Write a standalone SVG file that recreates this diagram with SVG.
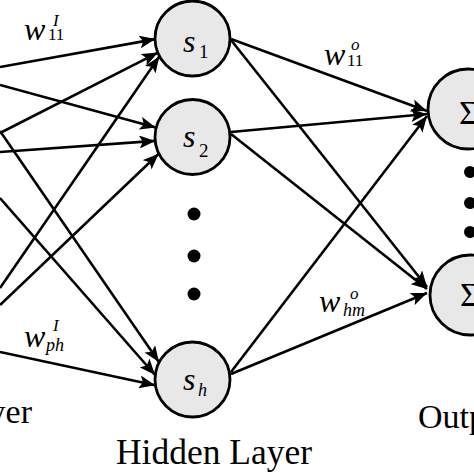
<svg xmlns="http://www.w3.org/2000/svg" width="474" height="474" viewBox="0 0 474 474">
<style>
.edge{stroke:#000;stroke-width:2.6;fill:none;marker-end:url(#arr)}
.node{fill:#e8e8e8;stroke:#000;stroke-width:2.8}
.dot{fill:#000}
.it{font-family:"Liberation Serif",serif;font-style:italic}
.rm{font-family:"Liberation Serif",serif}
.up{font-style:normal}
</style>
<defs>
<marker id="arr" markerWidth="17" markerHeight="13" refX="16" refY="6.5" orient="auto" markerUnits="userSpaceOnUse">
<path d="M0,0 L16,6.5 L0,13 L3.5,6.5 z" fill="#000"/>
</marker>
</defs>
<rect width="474" height="474" fill="#fff"/>
<g id="connectors">
<path class="edge" d="M0,67 L155.4,39.1"/>
<path class="edge" d="M0,133 L157.9,52.6"/>
<path class="edge" d="M0,288 L159.3,56.5"/>
<path class="edge" d="M0,85 L155.8,127.5"/>
<path class="edge" d="M0,152 L155.3,140.9"/>
<path class="edge" d="M0,305 L158.7,153.7"/>
<path class="edge" d="M0,131 L158.9,362"/>
<path class="edge" d="M0,198 L155.1,375"/>
<path class="edge" d="M0,352 L155.2,385.2"/>
<path class="edge" d="M231,39 L427,111"/>
<path class="edge" d="M231,40 L427,287"/>
<path class="edge" d="M231,132 L427,114"/>
<path class="edge" d="M231,134 L427,289"/>
<path class="edge" d="M231,372 L427,116"/>
<path class="edge" d="M231,374 L427,293"/>
</g>
<g id="weight-labels">
<text class="it" x="24" y="40" font-size="32">w<tspan x="53" y="26" font-size="17">I</tspan><tspan class="up" x="48" y="40" font-size="17">11</tspan></text>
<text class="it" x="324" y="65" font-size="32">w<tspan x="351" y="50" font-size="17">o</tspan><tspan class="up" x="347" y="66" font-size="17">11</tspan></text>
<text class="it" x="24" y="347" font-size="32">w<tspan x="53" y="331" font-size="17">I</tspan><tspan x="46" y="351" font-size="18">ph</tspan></text>
<text class="it" x="319" y="312" font-size="32">w<tspan x="350" y="299" font-size="17">o</tspan><tspan x="343" y="316" font-size="18">hm</tspan></text>
</g>
<g id="s1">
<circle class="node" cx="192.5" cy="38.5" r="37.5"/>
<text class="it" x="183" y="52" font-size="32">s<tspan class="up" x="199" y="58" font-size="19">1</tspan></text>
</g>
<g id="s2">
<circle class="node" cx="192.5" cy="137" r="37.5"/>
<text class="it" x="183" y="147" font-size="32">s<tspan class="up" x="199" y="157" font-size="19">2</tspan></text>
</g>
<g id="hidden-dots">
<circle class="dot" cx="194" cy="214" r="6.5"/>
<circle class="dot" cx="194" cy="256" r="6.5"/>
<circle class="dot" cx="194" cy="294" r="6.5"/>
</g>
<g id="sh">
<circle class="node" cx="192.5" cy="379.5" r="37.5"/>
<text class="it" x="183" y="390" font-size="32">s<tspan x="198" y="396" font-size="18">h</tspan></text>
</g>
<g id="o1">
<circle class="node" cx="468" cy="109" r="40"/>
<text class="rm" x="459" y="124" font-size="34">Σ</text>
</g>
<g id="output-dots">
<circle class="dot" cx="470" cy="172" r="6"/>
<circle class="dot" cx="470" cy="203" r="6"/>
<circle class="dot" cx="470" cy="232" r="6"/>
</g>
<g id="om">
<circle class="node" cx="470" cy="295" r="40"/>
<text class="rm" x="460" y="306" font-size="34">Σ</text>
</g>
<g id="layer-labels">
<text class="rm" x="32" y="423" font-size="34" text-anchor="end">Input Layer</text>
<text class="rm" x="116" y="464" font-size="35" textLength="196" lengthAdjust="spacingAndGlyphs">Hidden Layer</text>
<text class="rm" x="418" y="428" font-size="34">Output Layer</text>
</g>
</svg>
